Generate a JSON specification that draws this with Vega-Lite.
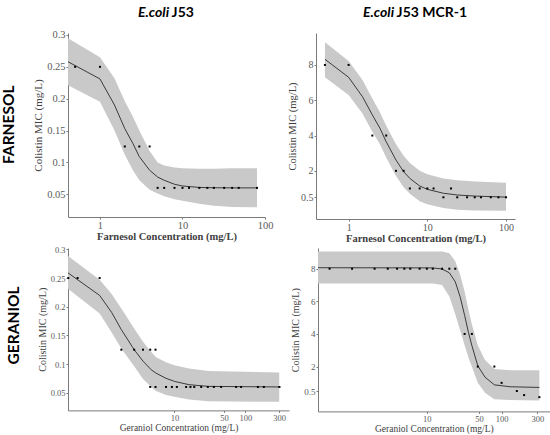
{
  "$schema": "https://vega.github.io/schema/vega-lite/v6.json",
  "padding": {"left": 2, "top": 5, "right": 5, "bottom": 5},
  "background": "white",
  "datasets": {
    "pts": [
      {"p": "F1", "x": 0.5, "y": 0.25}, {"p": "F1", "x": 1, "y": 0.25},
      {"p": "F1", "x": 2, "y": 0.125}, {"p": "F1", "x": 3, "y": 0.125}, {"p": "F1", "x": 4, "y": 0.125},
      {"p": "F1", "x": 5, "y": 0.06}, {"p": "F1", "x": 6, "y": 0.06}, {"p": "F1", "x": 8, "y": 0.06},
      {"p": "F1", "x": 10, "y": 0.06}, {"p": "F1", "x": 12, "y": 0.06}, {"p": "F1", "x": 16, "y": 0.06},
      {"p": "F1", "x": 20, "y": 0.06}, {"p": "F1", "x": 24, "y": 0.06}, {"p": "F1", "x": 32, "y": 0.06},
      {"p": "F1", "x": 40, "y": 0.06}, {"p": "F1", "x": 48, "y": 0.06}, {"p": "F1", "x": 80, "y": 0.06},

      {"p": "F2", "x": 0.5, "y": 8}, {"p": "F2", "x": 1, "y": 8}, {"p": "F2", "x": 2, "y": 4},
      {"p": "F2", "x": 3, "y": 4}, {"p": "F2", "x": 4, "y": 2}, {"p": "F2", "x": 5, "y": 2},
      {"p": "F2", "x": 6, "y": 1}, {"p": "F2", "x": 8, "y": 1}, {"p": "F2", "x": 10, "y": 1},
      {"p": "F2", "x": 12, "y": 1}, {"p": "F2", "x": 16, "y": 0.5}, {"p": "F2", "x": 20, "y": 1},
      {"p": "F2", "x": 24, "y": 0.5}, {"p": "F2", "x": 32, "y": 0.5}, {"p": "F2", "x": 40, "y": 0.5},
      {"p": "F2", "x": 48, "y": 0.5}, {"p": "F2", "x": 64, "y": 0.5}, {"p": "F2", "x": 80, "y": 0.5},
      {"p": "F2", "x": 100, "y": 0.5},

      {"p": "G1", "x": 0.318, "y": 0.25}, {"p": "G1", "x": 0.43, "y": 0.25}, {"p": "G1", "x": 0.88, "y": 0.25},
      {"p": "G1", "x": 1.78, "y": 0.125}, {"p": "G1", "x": 2.7, "y": 0.125}, {"p": "G1", "x": 3.6, "y": 0.125},
      {"p": "G1", "x": 4.55, "y": 0.125}, {"p": "G1", "x": 5.4, "y": 0.125},
      {"p": "G1", "x": 4.55, "y": 0.06}, {"p": "G1", "x": 5.4, "y": 0.06}, {"p": "G1", "x": 7.6, "y": 0.06},
      {"p": "G1", "x": 9.2, "y": 0.06}, {"p": "G1", "x": 10.8, "y": 0.06}, {"p": "G1", "x": 14.6, "y": 0.06},
      {"p": "G1", "x": 16.8, "y": 0.06}, {"p": "G1", "x": 19, "y": 0.06}, {"p": "G1", "x": 23.8, "y": 0.06},
      {"p": "G1", "x": 29.5, "y": 0.06}, {"p": "G1", "x": 35.9, "y": 0.06}, {"p": "G1", "x": 45.5, "y": 0.06},
      {"p": "G1", "x": 74, "y": 0.06}, {"p": "G1", "x": 87, "y": 0.06}, {"p": "G1", "x": 150, "y": 0.06},
      {"p": "G1", "x": 182, "y": 0.06}, {"p": "G1", "x": 302, "y": 0.06},

      {"p": "G2", "x": 0.5, "y": 8}, {"p": "G2", "x": 1, "y": 8}, {"p": "G2", "x": 2, "y": 8},
      {"p": "G2", "x": 3, "y": 8}, {"p": "G2", "x": 4, "y": 8}, {"p": "G2", "x": 5, "y": 8},
      {"p": "G2", "x": 6, "y": 8}, {"p": "G2", "x": 8, "y": 8}, {"p": "G2", "x": 10, "y": 8},
      {"p": "G2", "x": 12, "y": 8}, {"p": "G2", "x": 16, "y": 8}, {"p": "G2", "x": 20, "y": 8},
      {"p": "G2", "x": 24, "y": 8}, {"p": "G2", "x": 32, "y": 4}, {"p": "G2", "x": 40, "y": 4},
      {"p": "G2", "x": 48, "y": 2}, {"p": "G2", "x": 80, "y": 2}, {"p": "G2", "x": 100, "y": 1},
      {"p": "G2", "x": 160, "y": 0.5}, {"p": "G2", "x": 200, "y": 0.25}, {"p": "G2", "x": 320, "y": 0.125}
    ],
    "fit": [
      {"p": "F1", "x": 0.41, "fit": 0.258, "lo": 0.221, "hi": 0.295},
      {"p": "F1", "x": 1, "fit": 0.231, "lo": 0.195, "hi": 0.265},
      {"p": "F1", "x": 1.5, "fit": 0.19, "lo": 0.15, "hi": 0.232},
      {"p": "F1", "x": 2, "fit": 0.153, "lo": 0.112, "hi": 0.196},
      {"p": "F1", "x": 2.5, "fit": 0.13, "lo": 0.088, "hi": 0.172},
      {"p": "F1", "x": 3, "fit": 0.109, "lo": 0.072, "hi": 0.15},
      {"p": "F1", "x": 4, "fit": 0.0877, "lo": 0.057, "hi": 0.118},
      {"p": "F1", "x": 5, "fit": 0.077, "lo": 0.051, "hi": 0.1},
      {"p": "F1", "x": 6, "fit": 0.072, "lo": 0.047, "hi": 0.095},
      {"p": "F1", "x": 8, "fit": 0.0657, "lo": 0.042, "hi": 0.092},
      {"p": "F1", "x": 10, "fit": 0.063, "lo": 0.04, "hi": 0.091},
      {"p": "F1", "x": 16, "fit": 0.0607, "lo": 0.035, "hi": 0.09},
      {"p": "F1", "x": 24, "fit": 0.0602, "lo": 0.032, "hi": 0.09},
      {"p": "F1", "x": 40, "fit": 0.06, "lo": 0.03, "hi": 0.091},
      {"p": "F1", "x": 80, "fit": 0.06, "lo": 0.0295, "hi": 0.091},

      {"p": "F2", "x": 0.5, "fit": 8.32, "lo": 7.3, "hi": 9.29},
      {"p": "F2", "x": 1, "fit": 7.3, "lo": 6.3, "hi": 8.23},
      {"p": "F2", "x": 1.5, "fit": 6.2, "lo": 5.25, "hi": 7.15},
      {"p": "F2", "x": 2, "fit": 5.17, "lo": 4.22, "hi": 6.1},
      {"p": "F2", "x": 2.5, "fit": 4.41, "lo": 3.5, "hi": 5.32},
      {"p": "F2", "x": 3, "fit": 3.65, "lo": 2.75, "hi": 4.55},
      {"p": "F2", "x": 4, "fit": 2.61, "lo": 1.71, "hi": 3.51},
      {"p": "F2", "x": 5, "fit": 1.95, "lo": 1.07, "hi": 2.85},
      {"p": "F2", "x": 6, "fit": 1.57, "lo": 0.7, "hi": 2.45},
      {"p": "F2", "x": 8, "fit": 1.14, "lo": 0.28, "hi": 2.0},
      {"p": "F2", "x": 10, "fit": 0.95, "lo": 0.1, "hi": 1.8},
      {"p": "F2", "x": 16, "fit": 0.73, "lo": -0.1, "hi": 1.57},
      {"p": "F2", "x": 24, "fit": 0.63, "lo": -0.2, "hi": 1.46},
      {"p": "F2", "x": 40, "fit": 0.57, "lo": -0.25, "hi": 1.39},
      {"p": "F2", "x": 100, "fit": 0.51, "lo": -0.26, "hi": 1.33},

      {"p": "G1", "x": 0.315, "fit": 0.259, "lo": 0.2315, "hi": 0.2886},
      {"p": "G1", "x": 0.88, "fit": 0.2197, "lo": 0.188, "hi": 0.247},
      {"p": "G1", "x": 1.3, "fit": 0.19, "lo": 0.155, "hi": 0.222},
      {"p": "G1", "x": 1.78, "fit": 0.16, "lo": 0.127, "hi": 0.197},
      {"p": "G1", "x": 2.7, "fit": 0.125, "lo": 0.096, "hi": 0.162},
      {"p": "G1", "x": 3.6, "fit": 0.105, "lo": 0.074, "hi": 0.139},
      {"p": "G1", "x": 4.7, "fit": 0.09, "lo": 0.06, "hi": 0.121},
      {"p": "G1", "x": 5.5, "fit": 0.084, "lo": 0.053, "hi": 0.112},
      {"p": "G1", "x": 7.6, "fit": 0.075, "lo": 0.046, "hi": 0.103},
      {"p": "G1", "x": 10, "fit": 0.0697, "lo": 0.043, "hi": 0.098},
      {"p": "G1", "x": 16, "fit": 0.064, "lo": 0.038, "hi": 0.092},
      {"p": "G1", "x": 30, "fit": 0.061, "lo": 0.035, "hi": 0.088},
      {"p": "G1", "x": 300, "fit": 0.06, "lo": 0.034, "hi": 0.085},

      {"p": "G2", "x": 0.35, "fit": 8.06, "lo": 7.1, "hi": 9.05},
      {"p": "G2", "x": 12, "fit": 8.05, "lo": 7.1, "hi": 9.05},
      {"p": "G2", "x": 16, "fit": 7.98, "lo": 7.0, "hi": 9.05},
      {"p": "G2", "x": 20, "fit": 7.75, "lo": 6.3, "hi": 8.95},
      {"p": "G2", "x": 24, "fit": 7.2, "lo": 5.2, "hi": 8.45},
      {"p": "G2", "x": 28, "fit": 6.25, "lo": 4.2, "hi": 7.6},
      {"p": "G2", "x": 32, "fit": 5.14, "lo": 3.3, "hi": 6.6},
      {"p": "G2", "x": 36, "fit": 4.1, "lo": 2.55, "hi": 5.5},
      {"p": "G2", "x": 40, "fit": 3.29, "lo": 2.0, "hi": 4.6},
      {"p": "G2", "x": 48, "fit": 2.05, "lo": 1.0, "hi": 3.3},
      {"p": "G2", "x": 60, "fit": 1.35, "lo": 0.4, "hi": 2.4},
      {"p": "G2", "x": 80, "fit": 0.88, "lo": 0.0, "hi": 1.85},
      {"p": "G2", "x": 130, "fit": 0.76, "lo": -0.05, "hi": 1.78},
      {"p": "G2", "x": 320, "fit": 0.72, "lo": -0.08, "hi": 1.77}
    ]
  },
  "vconcat": [
    {
      "title": {"text": "FARNESOL", "orient": "left", "frame": "bounds", "anchor": "middle", "font": "Lato", "fontSize": 15.5, "fontWeight": "bold", "color": "black", "offset": 15},
      "bounds": "flush",
      "spacing": 51,
      "hconcat": [
        {
          "width": 197, "height": 184,
          "title": {"text": "E.coli", "subtitle": "\u200b\u00a0\u00a0\u00a0\u00a0\u00a0\u00a0\u00a0\u00a0\u00a0\u00a0J53", "anchor": "start", "frame": "group", "align": "left", "dx": 70, "offset": 10, "font": "Lato", "fontSize": 14, "fontWeight": "bold", "fontStyle": "italic", "color": "black", "subtitleFont": "Lato", "subtitleFontSize": 14, "subtitleFontWeight": "bold", "subtitleFontStyle": "normal", "subtitleColor": "black", "subtitlePadding": -14},
          "layer": [
            {"data": {"name": "fit"}, "transform": [{"filter": "datum.p == 'F1'"}],
             "mark": {"type": "area", "color": "#c9c9c9"},
             "encoding": {
               "x": {"field": "x", "type": "quantitative", "scale": {"type": "log", "domain": [0.41, 100], "nice": false},
                     "axis": {"title": "Farnesol Concentration (mg/L)", "values": [1, 10, 100], "tickCount": 12, "format": "d", "labelFont": "Liberation Serif", "titleFont": "Liberation Serif", "labelOverlap": false, "labelFontSize": 10.5, "titleFontSize": 10.5, "titleFontWeight": "bold", "titlePadding": 1}},
               "y": {"field": "lo", "type": "quantitative", "scale": {"domain": [0.0143, 0.3031], "zero": false, "nice": false},
                     "axis": {"title": "Colistin MIC (mg/L)", "values": [0.05, 0.1, 0.15, 0.2, 0.25, 0.3], "tickCount": 12, "format": "~g", "labelFont": "Liberation Serif", "titleFont": "Liberation Serif", "labelOverlap": false, "labelFontSize": 10.5, "titleFontSize": 11, "titlePadding": 3}},
               "y2": {"field": "hi"}
             }},
            {"data": {"name": "fit"}, "transform": [{"filter": "datum.p == 'F1'"}],
             "mark": {"type": "line", "color": "#3a3a3a", "strokeWidth": 1},
             "encoding": {"x": {"field": "x", "type": "quantitative"}, "y": {"field": "fit", "type": "quantitative"}}},
            {"data": {"name": "pts"}, "transform": [{"filter": "datum.p == 'F1'"}],
             "mark": {"type": "square", "filled": true, "color": "black", "size": 4, "opacity": 1},
             "encoding": {"x": {"field": "x", "type": "quantitative"}, "y": {"field": "y", "type": "quantitative"}}}
          ]
        },
        {
          "width": 199, "height": 186,
          "title": {"text": "E.coli", "subtitle": "\u200b\u00a0\u00a0\u00a0\u00a0\u00a0\u00a0\u00a0\u00a0\u00a0\u00a0J53 MCR-1", "anchor": "start", "frame": "group", "align": "left", "dx": 47, "offset": 13, "font": "Lato", "fontSize": 14, "fontWeight": "bold", "fontStyle": "italic", "color": "black", "subtitleFont": "Lato", "subtitleFontSize": 14, "subtitleFontWeight": "bold", "subtitleFontStyle": "normal", "subtitleColor": "black", "subtitlePadding": -14},
          "layer": [
            {"data": {"name": "fit"}, "transform": [{"filter": "datum.p == 'F2'"}],
             "mark": {"type": "area", "color": "#c9c9c9"},
             "encoding": {
               "x": {"field": "x", "type": "quantitative", "scale": {"type": "log", "domain": [0.385, 130], "nice": false},
                     "axis": {"title": "Farnesol Concentration (mg/L)", "values": [1, 10, 100], "tickCount": 12, "format": "d", "labelFont": "Liberation Serif", "titleFont": "Liberation Serif", "labelOverlap": false, "labelFontSize": 10, "titleFontSize": 10.5, "titleFontWeight": "bold", "titlePadding": 1}},
               "y": {"field": "lo", "type": "quantitative", "scale": {"domain": [-0.73, 9.81], "zero": false, "nice": false},
                     "axis": {"title": "Colistin MIC (mg/L)", "values": [0.5, 2, 4, 6, 8], "tickCount": 12, "format": "~g", "labelFont": "Liberation Serif", "titleFont": "Liberation Serif", "labelOverlap": false, "labelFontSize": 10, "titleFontSize": 10.5, "titlePadding": 3}},
               "y2": {"field": "hi"}
             }},
            {"data": {"name": "fit"}, "transform": [{"filter": "datum.p == 'F2'"}],
             "mark": {"type": "line", "color": "#3a3a3a", "strokeWidth": 1},
             "encoding": {"x": {"field": "x", "type": "quantitative"}, "y": {"field": "fit", "type": "quantitative"}}},
            {"data": {"name": "pts"}, "transform": [{"filter": "datum.p == 'F2'"}],
             "mark": {"type": "square", "filled": true, "color": "black", "size": 4, "opacity": 1},
             "encoding": {"x": {"field": "x", "type": "quantitative"}, "y": {"field": "y", "type": "quantitative"}}}
          ]
        }
      ]
    },
    {
      "title": {"text": "GERANIOL", "orient": "left", "frame": "bounds", "anchor": "middle", "font": "Lato", "fontSize": 15.5, "fontWeight": "bold", "color": "black", "offset": 15, "dx": 14},
      "bounds": "flush",
      "spacing": 29,
      "hconcat": [
        {
          "width": 221, "height": 162.4,
          "layer": [
            {"data": {"name": "fit"}, "transform": [{"filter": "datum.p == 'G1'"}],
             "mark": {"type": "area", "color": "#c9c9c9"},
             "encoding": {
               "x": {"field": "x", "type": "quantitative", "scale": {"type": "log", "domain": [0.315, 412], "nice": false},
                     "axis": {"title": "Geraniol Concentration (mg/L)", "values": [10, 50, 100, 300], "tickCount": 12, "format": "d", "labelFont": "Liberation Serif", "titleFont": "Liberation Serif", "labelOverlap": false, "labelFontSize": 8.5, "titleFontSize": 9.5, "titlePadding": 1}},
               "y": {"field": "lo", "type": "quantitative", "scale": {"domain": [0.0191, 0.3024], "zero": false, "nice": false},
                     "axis": {"title": "Colistin MIC (mg/L)", "values": [0.05, 0.1, 0.15, 0.2, 0.25, 0.3], "tickCount": 12, "format": "~g", "labelFont": "Liberation Serif", "titleFont": "Liberation Serif", "labelOverlap": false, "labelFontSize": 8.5, "titleFontSize": 10, "titlePadding": 3}},
               "y2": {"field": "hi"}
             }},
            {"data": {"name": "fit"}, "transform": [{"filter": "datum.p == 'G1'"}],
             "mark": {"type": "line", "color": "#3a3a3a", "strokeWidth": 1},
             "encoding": {"x": {"field": "x", "type": "quantitative"}, "y": {"field": "fit", "type": "quantitative"}}},
            {"data": {"name": "pts"}, "transform": [{"filter": "datum.p == 'G1'"}],
             "mark": {"type": "square", "filled": true, "color": "black", "size": 4, "opacity": 1},
             "encoding": {"x": {"field": "x", "type": "quantitative"}, "y": {"field": "y", "type": "quantitative"}}}
          ]
        },
        {
          "width": 231.7, "height": 163.4,
          "layer": [
            {"data": {"name": "fit"}, "transform": [{"filter": "datum.p == 'G2'"}],
             "mark": {"type": "area", "color": "#c9c9c9"},
             "encoding": {
               "x": {"field": "x", "type": "quantitative", "scale": {"type": "log", "domain": [0.35, 440], "nice": false},
                     "axis": {"title": "Geraniol Concentration (mg/L)", "values": [10, 50, 100, 300], "tickCount": 12, "format": "d", "labelFont": "Liberation Serif", "titleFont": "Liberation Serif", "labelOverlap": false, "labelFontSize": 8.5, "titleFontSize": 9.5, "titlePadding": 1}},
               "y": {"field": "lo", "type": "quantitative", "scale": {"domain": [-0.75, 9.27], "zero": false, "nice": false},
                     "axis": {"title": "Colistin MIC (mg/L)", "values": [0.5, 2, 4, 6, 8], "tickCount": 12, "format": "~g", "labelFont": "Liberation Serif", "titleFont": "Liberation Serif", "labelOverlap": false, "labelFontSize": 9, "titleFontSize": 10, "titlePadding": 3}},
               "y2": {"field": "hi"}
             }},
            {"data": {"name": "fit"}, "transform": [{"filter": "datum.p == 'G2'"}],
             "mark": {"type": "line", "color": "#3a3a3a", "strokeWidth": 1},
             "encoding": {"x": {"field": "x", "type": "quantitative"}, "y": {"field": "fit", "type": "quantitative"}}},
            {"data": {"name": "pts"}, "transform": [{"filter": "datum.p == 'G2'"}],
             "mark": {"type": "square", "filled": true, "color": "black", "size": 4, "opacity": 1},
             "encoding": {"x": {"field": "x", "type": "quantitative"}, "y": {"field": "y", "type": "quantitative"}}}
          ]
        }
      ]
    }
  ],
  "spacing": 1,
  "config": {
    "view": {"stroke": null},
    "axis": {"grid": false, "domainColor": "#7a7a7a", "tickColor": "#7a7a7a", "tickSize": 2, "labelFont": "Liberation Serif", "titleFont": "Liberation Serif", "labelColor": "#5a5a5a", "titleColor": "#404040", "titleFontWeight": "normal", "labelPadding": 1, "labelOverlap": false, "labelFlush": false}
  }
}
